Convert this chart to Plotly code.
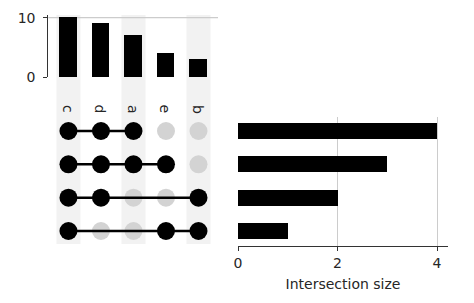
import plotly.graph_objects as go

# ---- data ----
set_names = ['c', 'd', 'a', 'e', 'b']
set_sizes = [10, 9, 7, 4, 3]
memberships = [
    [1, 1, 1, 0, 0],
    [1, 1, 1, 1, 0],
    [1, 1, 0, 0, 1],
    [1, 0, 0, 1, 1],
]
intersection_sizes = [4, 3, 2, 1]

W, H = 474, 303
def fx(p): return p / W
def fy(p): return 1 - p / H

FONT = dict(family="DejaVu Sans", size=14, color="#262626")
n_rows = len(memberships)
cols = list(range(len(set_names)))
row_y = [n_rows - 1 - r for r in range(n_rows)]

fig = go.Figure()

# top: set size bars
fig.add_trace(go.Bar(x=cols, y=set_sizes, width=0.54, marker=dict(color="black", line=dict(width=0)),
                     xaxis="x", yaxis="y", showlegend=False))

# matrix: grey dots, lines, black dots
gx, gy, bx, by = [], [], [], []
for r, mem in enumerate(memberships):
    for c, m in enumerate(mem):
        if m:
            bx.append(c); by.append(row_y[r])
        else:
            gx.append(c); gy.append(row_y[r])
fig.add_trace(go.Scatter(x=gx, y=gy, mode="markers", marker=dict(size=18, color="#d3d3d3"),
                         xaxis="x2", yaxis="y2", showlegend=False))
for r, mem in enumerate(memberships):
    idx = [c for c, m in enumerate(mem) if m]
    fig.add_trace(go.Scatter(x=[min(idx), max(idx)], y=[row_y[r]] * 2, mode="lines",
                             line=dict(color="black", width=2.5), xaxis="x2", yaxis="y2", showlegend=False))
fig.add_trace(go.Scatter(x=bx, y=by, mode="markers", marker=dict(size=18, color="black"),
                         xaxis="x2", yaxis="y2", showlegend=False))

# right: intersection size bars
fig.add_trace(go.Bar(x=intersection_sizes, y=row_y, orientation="h", width=0.48,
                     marker=dict(color="black", line=dict(width=0)),
                     xaxis="x3", yaxis="y3", showlegend=False))

# shading columns
shapes = []
for c in cols:
    if c % 2 == 0:
        shapes.append(dict(type="rect", xref="x", yref="paper", x0=c - 0.37, x1=c + 0.37,
                           y0=fy(244), y1=fy(15), fillcolor="#f2f2f2", line=dict(width=0), layer="below"))
shapes.append(dict(type="line", xref="x domain", yref="y", x0=0, x1=1, y0=10, y1=10,
                   line=dict(color="#cccccc", width=1.2), layer="below"))

annotations = []
for c, name in enumerate(set_names):
    annotations.append(dict(x=c, xref="x", y=fy(109.5), yref="paper", text=name, textangle=90,
                            showarrow=False, font=FONT, xanchor="center", yanchor="middle"))

xr = [-0.62, 4.6]
yr = [-0.45, 3.42]
fig.update_layout(
    width=W, height=H, margin=dict(l=0, r=0, t=0, b=0, autoexpand=False),
    paper_bgcolor="white", plot_bgcolor="rgba(0,0,0,0)",
    font=FONT, shapes=shapes, annotations=annotations, bargap=0,
    xaxis=dict(domain=[fx(48.3), fx(218)], range=xr, visible=False, automargin=False),
    yaxis=dict(domain=[fy(77.3), fy(15.3)], range=[0, 10.4], tickvals=[0, 10], showgrid=False,
               zeroline=False, showline=True, linecolor="#333", linewidth=1, ticks="outside",
               ticklen=4, tickcolor="#333", tickfont=FONT, automargin=False, ticklabelstandoff=5),
    xaxis2=dict(domain=[fx(48.3), fx(218)], range=xr, visible=False, automargin=False),
    yaxis2=dict(domain=[fy(246), fy(117)], range=yr, visible=False, automargin=False),
    xaxis3=dict(domain=[fx(238), fx(448)], range=[0, 4.22], tickvals=[0, 2, 4], showgrid=True,
                gridcolor="#cccccc", gridwidth=1.2, zeroline=False, showline=True, linecolor="#333",
                linewidth=1, ticks="outside", ticklen=4, tickcolor="#333", tickfont=FONT,
                title=dict(text="Intersection size", font=FONT, standoff=9), anchor="y3",
                automargin=False),
    yaxis3=dict(domain=[fy(246), fy(117)], range=yr, visible=False, anchor="x3", automargin=False),
)

fig.write_html("out.html")
